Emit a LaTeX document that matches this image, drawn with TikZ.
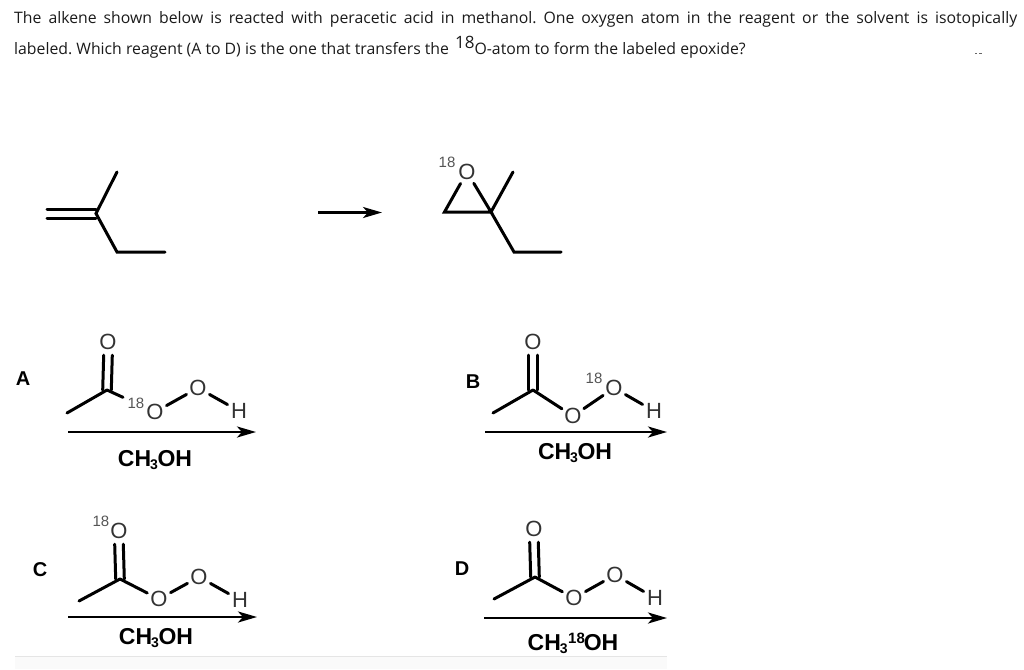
\documentclass[tikz,border=0pt]{standalone}
\usepackage{fontspec}
\setmainfont{Open Sans}
\newfontfamily\chemfont{Liberation Sans}
\usetikzlibrary{arrows.meta}
\frenchspacing

\definecolor{atomgray}{HTML}{333333}
\definecolor{labelgray}{HTML}{555555}
\definecolor{textgray}{HTML}{1a1a1a}

\newcommand{\subthree}{\kern-1pt\raisebox{-3pt}{\fontsize{14}{14}\selectfont 3}\kern-.5pt}

\tikzset{
  atom/.style={circle,inner sep=0pt,minimum size=26pt,text=atomgray,font=\chemfont\fontsize{22}{24}\selectfont},
  isotope/.style={inner sep=0pt,text=labelgray,font=\chemfont\fontsize{15}{16}\selectfont},
  bond/.style={line width=3pt,line cap=round},
  rxnarrow/.style={line width=2.6pt,-{Stealth[length=19pt,width=11pt,inset=5pt]}},
  reagent/.style={inner sep=0pt,font=\chemfont\bfseries\fontsize{23}{24}\selectfont},
  optlabel/.style={inner sep=0pt,font=\chemfont\bfseries\fontsize{20}{22}\selectfont},
  question/.style={inner sep=0pt,anchor=base west,text=textgray,font=\fontsize{15.8}{18}\selectfont}
}

\begin{document}
\begin{tikzpicture}[x=1pt,y=-1pt]
\useasboundingbox (0,0) rectangle (1024,669);

\fill[black!2] (15,656) rectangle (667,669);
\draw[black!10,line width=1pt] (15,656) -- (667,656);

% question
\node[question] (line1) at (14,24) {\makebox[1003pt][s]{The alkene shown below is reacted with peracetic acid in methanol. One oxygen atom in the reagent or the solvent is isotopically}};
\node[question] (line2) at (14,55) {labeled. Which reagent (A to D) is the one that transfers the \kern2pt\raisebox{6pt}{\fontsize{17}{18}\selectfont 18}O-atom to form the labeled epoxide?};

% stray marks
\fill[black!60] (975,53.5) rectangle (977,54.5);
\fill[black!60] (979,53.5) rectangle (982,54.5);

% alkene
\coordinate (chA) at (47,209);
\coordinate (chB) at (47,218);
\coordinate (ctop) at (96,213.5);
\coordinate (metop) at (117,172);
\coordinate (ettop) at (117,252);
\coordinate (endtop) at (165,252);
\draw[bond] (chA) -- ([yshift=4.5pt]ctop);
\draw[bond] (chB) -- ([yshift=-4.5pt]ctop);
\draw[bond] (metop) -- (ctop) -- (ettop) -- (endtop);

% reaction arrow
\coordinate (startmain) at (318,212.5);
\coordinate (endmain) at (382,212.5);
\draw[rxnarrow] (startmain) -- (endmain);

% epoxide
\node[atom] (oep) at (467,172) {O};
\node[isotope] (isoep) at (447,162) {18};
\coordinate (cepl) at (444.5,212);
\coordinate (cepr) at (491,212);
\coordinate (meep) at (513,172);
\coordinate (etep) at (514,252);
\coordinate (endep) at (561,252);
\draw[bond] (oep) -- (cepl) -- (cepr) -- (oep);
\draw[bond] (meep) -- (cepr) -- (etep) -- (endep);

% A
\node[optlabel] (labA) at (23,379) {A};
\coordinate (meA) at (67,413);
\coordinate (cA) at (107,390);
\node[atom] (oA) at (108,342) {O};
\node[atom] (olA) at (155,412) {O};
\node[isotope] (isoA) at (136,403) {18};
\node[atom] (ohA) at (198,388) {O};
\node[atom] (hA) at (239,411) {H};
\draw[bond] (meA) -- (cA);
\draw[bond] ([xshift=-4.3pt]cA) -- ([xshift=-4.3pt]oA.south);
\draw[bond] ([xshift=4.3pt]cA) -- ([xshift=4.3pt]oA.south);
\draw[bond,shorten >=22pt] (cA) -- (olA);
\draw[bond] (olA) -- (ohA);
\draw[bond] (ohA) -- (hA);
\coordinate (startA) at (68,432);
\coordinate (endA) at (256,432);
\draw[rxnarrow] (startA) -- (endA);
\node[reagent] (solvA) at (155,460) {CH\subthree OH};

% B
\node[optlabel] (labB) at (473,382) {B};
\coordinate (meB) at (493,413);
\coordinate (cB) at (533,390);
\node[atom] (oB) at (533,342) {O};
\node[atom] (olB) at (573,416) {O};
\node[atom] (ohB) at (614,388) {O};
\node[isotope] (isoB) at (594,378) {18};
\node[atom] (hB) at (654,411) {H};
\draw[bond] (meB) -- (cB);
\draw[bond] ([xshift=-4.3pt]cB) -- ([xshift=-4.3pt]oB.south);
\draw[bond] ([xshift=4.3pt]cB) -- ([xshift=4.3pt]oB.south);
\draw[bond] (cB) -- (olB);
\draw[bond] (olB) -- (ohB);
\draw[bond] (ohB) -- (hB);
\coordinate (startB) at (485,432);
\coordinate (endB) at (667,432);
\draw[rxnarrow] (startB) -- (endB);
\node[reagent] (solvB) at (575,453) {CH\subthree OH};

% C
\node[optlabel] (labC) at (40,570) {C};
\coordinate (meC) at (79,601);
\coordinate (cC) at (120,579);
\node[atom] (oC) at (119,531) {O};
\node[isotope] (isoC) at (101,521) {18};
\node[atom] (olC) at (159,599) {O};
\node[atom] (ohC) at (199,577) {O};
\node[atom] (hC) at (240,600) {H};
\draw[bond] (meC) -- (cC);
\draw[bond] ([xshift=-4.3pt]cC) -- ([xshift=-4.3pt]oC.south);
\draw[bond] ([xshift=4.3pt]cC) -- ([xshift=4.3pt]oC.south);
\draw[bond] (cC) -- (olC);
\draw[bond] (olC) -- (ohC);
\draw[bond] (ohC) -- (hC);
\coordinate (startC) at (68,617);
\coordinate (endC) at (257,617);
\draw[rxnarrow] (startC) -- (endC);
\node[reagent] (solvC) at (156,638) {CH\subthree OH};

% D
\node[optlabel] (labD) at (462,569) {D};
\coordinate (meD) at (494,599);
\coordinate (cD) at (535,577);
\node[atom] (oD) at (534,529) {O};
\node[atom] (olD) at (574,598) {O};
\node[atom] (ohD) at (615,575) {O};
\node[atom] (hD) at (655,598) {H};
\draw[bond] (meD) -- (cD);
\draw[bond] ([xshift=-4.3pt]cD) -- ([xshift=-4.3pt]oD.south);
\draw[bond] ([xshift=4.3pt]cD) -- ([xshift=4.3pt]oD.south);
\draw[bond] (cD) -- (olD);
\draw[bond] (olD) -- (ohD);
\draw[bond] (ohD) -- (hD);
\coordinate (startD) at (484,618);
\coordinate (endD) at (667,618);
\draw[rxnarrow] (startD) -- (endD);
\node[reagent] (solvD) at (573,643) {CH\subthree\kern1pt\raisebox{7pt}{\fontsize{15}{15}\selectfont 18}\kern-1pt OH};
\end{tikzpicture}
\end{document}
